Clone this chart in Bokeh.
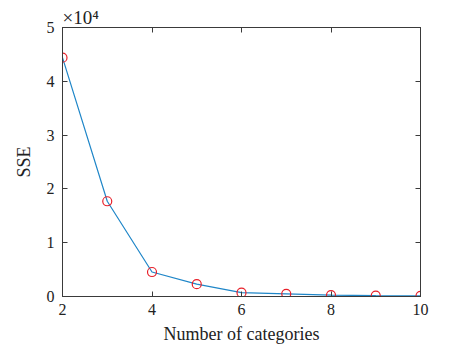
from bokeh.plotting import figure
from bokeh.models import LinearAxis, CustomJSTickFormatter, FixedTicker, Range1d
from bokeh.embed import file_html
from bokeh.resources import INLINE

categories = [2, 3, 4, 5, 6, 7, 8, 9, 10]
sse = [44400, 17700, 4550, 2300, 720, 500, 250, 150, 100]
x_ticks = [2, 4, 6, 8, 10]
y_ticks = [0, 10000, 20000, 30000, 40000, 50000]

FONT = "Liberation Serif"
AXC = "#3a3a3a"

p = figure(width=474, height=355, output_backend="svg", toolbar_location=None,
           x_range=Range1d(2, 10), y_range=Range1d(0, 50000),
           min_border_left=62, min_border_right=54, min_border_top=27, min_border_bottom=59)
p.grid.visible = False
p.outline_line_color = AXC
p.outline_line_width = 1
p.background_fill_color = "white"
p.border_fill_color = "white"

p.title.text = "×10⁴"
p.title.align = "left"
p.title.text_font = FONT
p.title.text_font_size = "19px"
p.title.text_font_style = "normal"
p.title.text_color = "#222222"
p.title.standoff = 0
p.title.offset = 0

fmt = CustomJSTickFormatter(code="return (tick/10000).toFixed(0);")

def style(ax, labels=True):
    ax.axis_line_color = AXC
    ax.major_tick_line_color = AXC
    ax.minor_tick_line_color = None
    ax.major_tick_in = 5
    ax.major_tick_out = 0
    ax.major_label_text_font = FONT
    ax.major_label_text_font_size = "16px"
    ax.major_label_text_color = "#222222"
    ax.axis_label_text_font = FONT
    ax.axis_label_text_font_size = "18px"
    ax.axis_label_text_font_style = "normal"
    ax.axis_label_text_color = "#222222"
    if not labels:
        ax.major_label_text_alpha = 0
        ax.major_label_text_font_size = "0px"
        ax.major_label_standoff = 0

style(p.xaxis[0])
style(p.yaxis[0])
p.xaxis[0].ticker = FixedTicker(ticks=x_ticks)
p.yaxis[0].ticker = FixedTicker(ticks=y_ticks)
p.yaxis[0].formatter = fmt
p.xaxis[0].major_label_standoff = 7
p.yaxis[0].major_label_standoff = 8
p.xaxis[0].axis_label = "Number of categories"
p.yaxis[0].axis_label = "SSE"
p.xaxis[0].axis_label_standoff = 6
p.yaxis[0].axis_label_standoff = 10

top = LinearAxis(ticker=FixedTicker(ticks=x_ticks))
style(top, labels=False)
p.add_layout(top, "above")
right = LinearAxis(ticker=FixedTicker(ticks=y_ticks))
style(right, labels=False)
p.add_layout(right, "right")

p.line(categories, sse, line_color="#1f86c8", line_width=1.2)
p.scatter(categories, sse, marker="circle", size=9, fill_color=None,
          line_color="#e8202a", line_width=1.2)

open("out.html", "w").write(file_html(p, INLINE))
